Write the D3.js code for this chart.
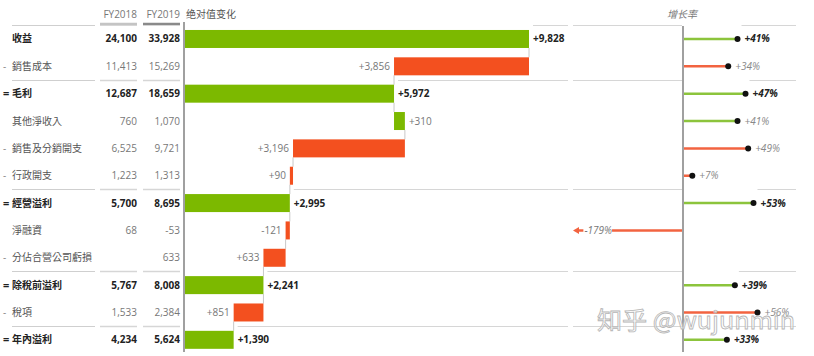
<!DOCTYPE html>
<html><head><meta charset="utf-8">
<script src="https://cdn.jsdelivr.net/npm/d3@7"></script>
<style>
body{margin:0;background:#fff;}
svg{font-family:"Open Sans","Noto Sans CJK TC",sans-serif;}
</style></head>
<body>
<svg id="c" width="814" height="356"></svg>
<script>
const rows = ["收益","銷售成本","毛利","其他淨收入","銷售及分銷開支","行政開支","經營溢利","淨融資","分佔合營公司虧損","除稅前溢利","稅項","年內溢利"];
const prefixes = ["","-","=","","-","-","=","","-","=","-","="];
const isTotal = [1,0,1,0,0,0,1,0,0,1,0,1];
const fy2018 = [24100,11413,12687,760,6525,1223,5700,68,null,5767,1533,4234];
const fy2019 = [33928,15269,18659,1070,9721,1313,8695,-53,633,8008,2384,5624];
const delta = [9828,3856,5972,310,3196,90,2995,-121,633,2241,851,1390];
const effectSign = [1,-1,1,1,-1,-1,1,1,-1,1,-1,1];
const growth = [41,34,47,41,49,7,53,-179,null,39,56,33];
const growthGood = [1,0,1,1,0,0,1,0,null,1,0,1];
const headers = ["FY2018","FY2019","绝对值变化","增长率"];

const GREEN="#7cb900", RED="#f3501f", GLINE="#8cc43c", RLINE="#f26340";
const svg = d3.select("#c");
const y = d3.scaleBand().domain(rows).range([25.3,353.5]);
const x = d3.scaleLinear().domain([0,9828]).range([185,529]);
const g = d3.scaleLinear().domain([0,100]).range([683,816]);
const BH = 18;
const cy = r => y(r)+y.bandwidth()/2;
const fix = s => s.replace(/\u2212/g,"-");
const fmt = v => fix(d3.format(",")(v));
const fmtS = v => fix(d3.format("+,")(v));

// compute waterfall
let run = 0;
const wf = rows.map((r,i)=>{
  let s,e,eff;
  if(isTotal[i]){ s=0; e=delta[i]; eff=delta[i]; run=e; }
  else { eff = delta[i]*effectSign[i]; s=run; e=run+eff; run=e; }
  return {r,i,s,e,eff};
});

// headers
svg.append("text").attr("x",137).attr("y",18).attr("text-anchor","end").attr("font-size",10).attr("fill","#777").text(headers[0]);
svg.append("text").attr("x",180).attr("y",18).attr("text-anchor","end").attr("font-size",10).attr("fill","#777").text(headers[1]);
svg.append("text").attr("x",186).attr("y",18).attr("font-size",10).attr("fill","#555").attr("font-family","Noto Sans CJK SC").text(headers[2]);
svg.append("text").attr("x",682).attr("y",18).attr("text-anchor","middle").attr("font-size",10).attr("fill","#777").attr("font-style","italic").attr("font-family","Noto Sans CJK SC").text(headers[3]);
svg.append("line").attr("x1",100).attr("x2",137).attr("y1",24).attr("y2",24).attr("stroke","#c4c4c4").attr("stroke-width",2.5);
svg.append("line").attr("x1",143).attr("x2",180).attr("y1",24).attr("y2",24).attr("stroke","#8a8a8a").attr("stroke-width",2.5);

// separators
rows.forEach((r,i)=>{
  if(!isTotal[i]) return;
  const yy = Math.round(y(r))+0.5;
  const segs = [[12,95],[100,137],[143,180],[x(delta[i])+4,568],[573,682],[g(growth[i])+4,796]];
  segs.forEach((s,k)=>{
    svg.append("line").attr("x1",s[0]).attr("x2",s[1]).attr("y1",yy).attr("y2",yy)
      .attr("stroke", k===0?"#cfcfcf":"#d6d6d6").attr("stroke-width", (k===1||k===2)&&i>0?1.5:1);
  });
});

// row labels
const lab = svg.append("g");
rows.forEach((r,i)=>{
  const t = isTotal[i];
  if(prefixes[i]) lab.append("text").attr("x",3).attr("y",cy(r)+3.5).attr("font-size",prefixes[i]==="="?11:10)
     .attr("font-weight",t?"bold":"normal").attr("fill",t?"#222":"#888").text(prefixes[i]);
  lab.append("text").attr("x",12).attr("y",cy(r)+3.5).attr("font-size",10).attr("font-family","Noto Sans CJK TC")
     .attr("font-weight",t?"bold":"normal").attr("fill",t?"#222":"#555").text(r);
  if(fy2018[i]!==null) lab.append("text").attr("x",137).attr("y",cy(r)+3.5).attr("text-anchor","end").attr("font-size",10)
     .attr("font-weight",t?"bold":"normal").attr("fill",t?"#222":"#777").text(fmt(fy2018[i]));
  lab.append("text").attr("x",180).attr("y",cy(r)+3.5).attr("text-anchor","end").attr("font-size",10)
     .attr("font-weight",t?"bold":"normal").attr("fill",t?"#222":"#777").text(fmt(fy2019[i]));
});

// connectors
for(let k=0;k<wf.length-1;k++){
  const a=wf[k], b=wf[k+1];
  svg.append("line").attr("x1",x(a.e)).attr("x2",x(a.e))
    .attr("y1",y(a.r)+(y.bandwidth()-BH)/2+BH).attr("y2",y(b.r)+(y.bandwidth()-BH)/2)
    .attr("stroke","#c8c8c8").attr("stroke-width",1);
}

// bars
svg.selectAll("rect.bar").data(wf).enter().append("rect").attr("class","bar")
  .attr("x",d=>x(Math.min(d.s,d.e))).attr("width",d=>Math.max(1,Math.abs(x(d.e)-x(d.s))))
  .attr("y",d=>y(d.r)+(y.bandwidth()-BH)/2).attr("height",BH)
  .attr("fill",d=>(isTotal[d.i]||d.eff>0)?GREEN:RED);

// bar labels
wf.forEach(d=>{
  const t=isTotal[d.i];
  const right = t || d.eff>0;
  const xx = right ? x(Math.max(d.s,d.e))+4 : x(Math.min(d.s,d.e))-4;
  svg.append("text").attr("x",xx).attr("y",cy(d.r)+3.5).attr("text-anchor",right?"start":"end")
    .attr("font-size",10).attr("font-weight",t?"bold":"normal").attr("fill",t?"#222":"#777")
    .text(fmtS(delta[d.i]));
});

// axis
svg.append("line").attr("x1",184).attr("x2",184).attr("y1",22).attr("y2",352).attr("stroke","#a0a0a0").attr("stroke-width",2);

// growth lollipops
rows.forEach((r,i)=>{
  if(growth[i]===null) return;
  const col = growthGood[i]?GLINE:RLINE;
  const yy = cy(r);
  const t = isTotal[i];
  const gg = svg.append("g");
  if(growth[i] >= 0){
    gg.append("line").attr("x1",g(0)).attr("x2",g(growth[i])).attr("y1",yy).attr("y2",yy).attr("stroke",col).attr("stroke-width",2.5);
    gg.append("circle").attr("cx",g(growth[i])).attr("cy",yy).attr("r",3).attr("fill","#111");
    gg.append("text").attr("x",g(growth[i])+7).attr("y",yy+3.5).attr("font-size",10).attr("font-style","italic")
      .attr("font-weight",t?"bold":"normal").attr("fill",t?"#222":"#888").text("+"+growth[i]+"%");
  } else {
    const xmin = 573;
    gg.append("line").attr("x1",g(0)).attr("x2",xmin+5).attr("y1",yy).attr("y2",yy).attr("stroke",col).attr("stroke-width",2.5);
    gg.append("path").attr("d",`M${xmin},${yy} L${xmin+6},${yy-3.5} L${xmin+6},${yy+3.5} Z`).attr("fill",col);
    const bg = gg.append("rect").attr("fill","#fff");
    const tx = gg.append("text").attr("x",612).attr("y",yy+3.5).attr("text-anchor","end").attr("font-size",10).attr("font-style","italic")
      .attr("fill","#777").text(growth[i]+"%");
    const bb = tx.node().getBBox();
    bg.attr("x",bb.x-1).attr("y",yy-2).attr("width",bb.width+1).attr("height",4);
  }
});
svg.append("line").attr("x1",683).attr("x2",683).attr("y1",26).attr("y2",352).attr("stroke","#a0a0a0").attr("stroke-width",2);

// watermark
svg.append("text").attr("x",597).attr("y",329).attr("font-size",24).attr("font-family","Noto Sans CJK SC")
  .attr("textLength",198).attr("lengthAdjust","spacingAndGlyphs")
  .attr("fill","#fff").attr("fill-opacity",0.6).attr("stroke","#b5b5b5").attr("stroke-width",0.8).text("知乎 @wujunmin");
</script>
</body></html>
